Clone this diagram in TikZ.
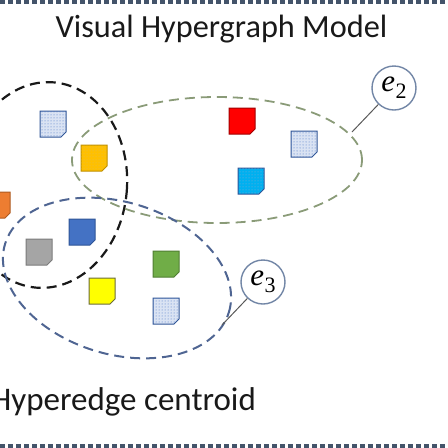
\documentclass[tikz,border=0pt]{standalone}
\usepackage{fontspec}
\setmainfont{Carlito}
\newfontfamily\labfont{Liberation Serif}
\usetikzlibrary{shapes.geometric,patterns}
\definecolor{frameline}{HTML}{44546A}
\definecolor{hgreen}{HTML}{8A9B78}
\definecolor{hblue}{HTML}{4F6592}
\definecolor{circ}{HTML}{7286A6}
\definecolor{lbfill}{HTML}{DAE3F3}
\definecolor{dkblue}{HTML}{2F5597}
\definecolor{mblue}{HTML}{4472C4}
\definecolor{gold}{HTML}{FFC000}
\definecolor{goldline}{HTML}{BF9000}
\definecolor{orng}{HTML}{ED7D31}
\definecolor{orngline}{HTML}{AE5A21}
\definecolor{gry}{HTML}{A5A5A5}
\definecolor{gryline}{HTML}{7B7B7B}
\definecolor{yel}{HTML}{FFFF00}
\definecolor{yelline}{HTML}{6B6B3B}
\definecolor{grn}{HTML}{70AD47}
\definecolor{grnline}{HTML}{507E32}
\definecolor{cyn}{HTML}{00B0F0}
\definecolor{redline}{HTML}{A00000}
\tikzset{
  docbox/.style={minimum size=26pt, inner sep=0pt, outer sep=0pt},
  docline/.style={line width=1pt, line join=miter},
  dotted doc/.style={docline, draw=dkblue, fill=lbfill, postaction={pattern=dots, pattern color=mblue}},
  hedge/.style={ellipse, inner sep=0pt, dash pattern=on 10pt off 6pt},
  lbl/.style={circle, draw=circ, line width=1.4pt, minimum size=44pt, inner sep=0pt},
  pin/.style={draw=black!65, line width=1pt},
  border/.style={line width=4pt, dash pattern=on 5pt off 3pt, draw=frameline}
}
% a document icon: square with the lower right corner cut off
\newcommand\docat[3]{%
  \node[docbox] (#1) at #2 {};
  \filldraw[#3] (#1.north west) -- (#1.north east) -- ([yshift=5pt]#1.south east)
    -- ([xshift=-5pt]#1.south east) -- (#1.south west) -- cycle;}
\newcommand\elabel[1]{{\labfont\fontsize{31}{31}\selectfont\itshape e}\kern0.5pt\raisebox{-7pt}{\labfont\fontsize{22}{22}\selectfont #1}}
\begin{document}
\begin{tikzpicture}[x=1pt,y=-1pt]
\useasboundingbox (0,0) rectangle (448,448);
\clip (0,0) rectangle (448,448);
\draw[border] (0,1.5) -- (448,1.5);
\draw[border] (0,446) -- (448,446);
\node[anchor=base, font=\fontsize{32.3}{32}\selectfont, text=black!90] (title) at (221.5,37) {Visual Hypergraph Model};
\node[anchor=base east, font=\fontsize{33}{33}\selectfont, text=black!90, inner sep=0pt] (cap) at (256,410) {Hyperedge centroid};
% hyperedges
\node[hedge, draw=black!90, line width=2.2pt, minimum width=164pt, minimum height=206pt, rotate=-5] (e1) at (45,185) {};
\node[hedge, draw=hgreen, line width=1.8pt, minimum width=290pt, minimum height=126pt] (eg) at (217,160) {};
\node[hedge, draw=hblue, line width=2pt, minimum width=234pt, minimum height=152pt, rotate=-17] (eb) at (117,278) {};
% documents
\docat{d1}{(53,124)}{dotted doc}
\docat{d2}{(94,158)}{docline, draw=goldline, fill=gold, postaction={pattern=dots, pattern color=goldline!60}}
\docat{d3}{(-3,205)}{docline, draw=orngline, fill=orng}
\docat{d4}{(82,232)}{docline, draw=dkblue, fill=mblue}
\docat{d5}{(39,252)}{docline, draw=gryline, fill=gry}
\docat{d6}{(102,291)}{docline, draw=yelline, fill=yel}
\docat{d7}{(166,264)}{docline, draw=grnline, fill=grn}
\docat{d8}{(166,311)}{dotted doc}
\docat{d9}{(242,121)}{docline, draw=redline, fill=red}
\docat{d10}{(304,144)}{dotted doc}
\docat{d11}{(251,181)}{docline, draw=dkblue, fill=cyn, postaction={pattern=dots, pattern color=dkblue!50}}
% centroid labels
\node[lbl] (c2) at (394,88) {\elabel{2}};
\node[lbl] (c3) at (263,282) {\elabel{3}};
\coordinate (p2) at (352,132);
\coordinate (p3) at (222,325);
\draw[pin] (c2) -- (p2);
\draw[pin] (c3) -- (p3);
\end{tikzpicture}
\end{document}
